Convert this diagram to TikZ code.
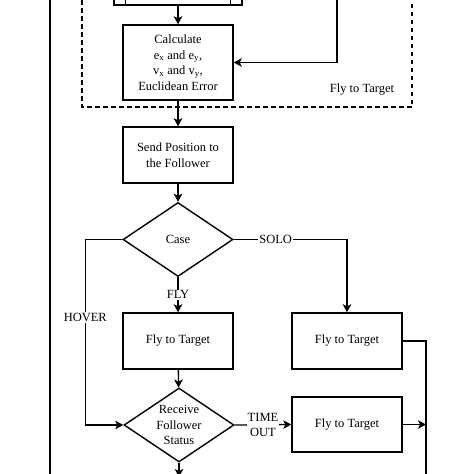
\documentclass[tikz,border=0pt]{standalone}
\usepackage{fontspec}
\setmainfont{Liberation Serif}
\usetikzlibrary{positioning, shapes.geometric, arrows.meta}

\begin{document}
\begin{tikzpicture}[x=1pt, y=-1pt, line width=1.3pt,
  >={Stealth[length=8pt,width=8.5pt,inset=2pt]},
  every node/.style={font=\fontsize{12.5}{15.5}\selectfont},
  proc node/.style={rectangle,draw,line width=1.4pt,minimum width=110pt,minimum height=56pt,align=center,inner sep=1pt},
  dec node/.style={diamond,draw,line width=1.4pt,minimum width=110pt,minimum height=74pt,inner sep=0pt},
  tag/.style={fill=white,inner sep=1pt,align=center}]

\clip (0,0) rectangle (474,474);

% group of the upper steps
\draw[line width=1.5pt, dash pattern=on 4.5pt off 3.5pt] (82,-40) rectangle (412,107);
\node (grouplabel) at (362,90) {Fly to Target};

\node[proc node, minimum width=128pt, minimum height=40pt] (load) at (178,-15) {};
\draw ([xshift=12pt]load.north west) -- ([xshift=12pt]load.south west)
      ([xshift=-12pt]load.north east) -- ([xshift=-12pt]load.south east);

\node[proc node, minimum height=75pt] (calc) at (178,62.5)
  {Calculate\\e\textsubscript{x} and e\textsubscript{y},\\v\textsubscript{x} and v\textsubscript{y},\\Euclidean Error};
\node[proc node] (send) at (178,155) {Send Position to\\the Follower};
\node[dec node] (case) at (178,239.5) {Case};
\node[proc node] (fly) at (178,341) {Fly to Target};
\node[proc node] (solo) at (347,341) {Fly to Target};
\node[dec node, label={[align=center]center:Receive\\Follower\\Status}] (status) at (179,425) {};
\node[proc node, minimum height=55pt] (timeout) at (347,424.5) {Fly to Target};

\coordinate (fbtop) at (337,-20);
\coordinate (looptop) at (50,-20);
\coordinate (loopbot) at (50,480);
\coordinate (busend) at (426,480);
\coordinate (exit) at (179,477);

\draw[->] (load) -- (calc);
\draw[->] (fbtop) |- (calc.east);
\draw[->] (calc) -- (send);
\draw[->] (send) -- (case);
\draw[->] (case) -- node[tag] {FLY} (fly);
\draw[->] (case.east) -| node[tag, pos=0.185] {SOLO} (solo.north);
\draw[->] (case.west) -- ++(-37,0) |- node[tag, pos=0.21] {HOVER} (status.west);
\draw[->] (fly) -- (status);
\draw[->] (status.east) -- node[tag] {TIME\\OUT} (timeout.west);
\draw[->] (status.south) -- (exit);
\draw (solo.east) -| (busend);
\draw[->] (timeout.east) -- (timeout.east -| busend);
\draw (looptop) -- (loopbot);
\end{tikzpicture}
\end{document}
